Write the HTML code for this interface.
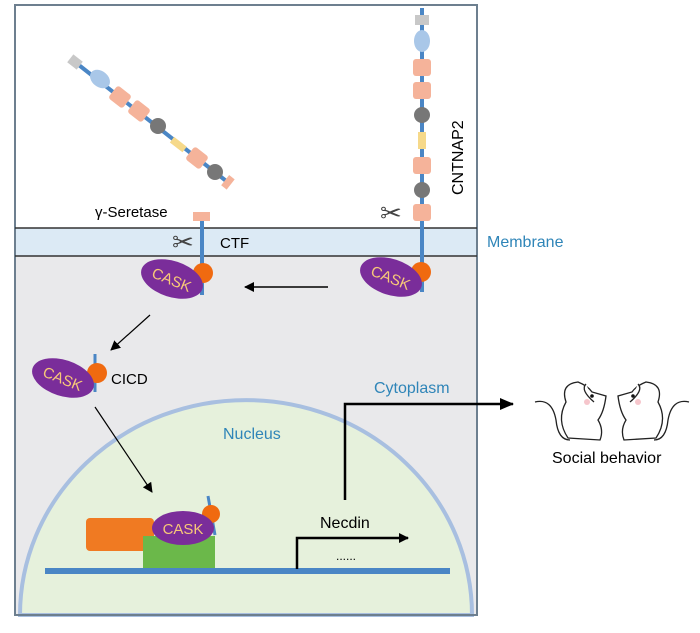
<!DOCTYPE html>
<html><head><meta charset="utf-8"><style>
body{margin:0;background:#fff;}
svg{display:block;font-family:"Liberation Sans",sans-serif;}
</style></head><body>
<svg width="700" height="633" viewBox="0 0 700 633">
<defs>
<marker id="ah" markerWidth="10" markerHeight="10" refX="9" refY="5" orient="auto" markerUnits="userSpaceOnUse"><path d="M0,0 L10,5 L0,10 z" fill="#000"/></marker>
<marker id="ah2" markerWidth="14" markerHeight="12" refX="13" refY="6" orient="auto" markerUnits="userSpaceOnUse"><path d="M0,0 L14,6 L0,12 z" fill="#000"/></marker>
</defs>
<rect x="15" y="5" width="462" height="223" fill="#fff"/>
<rect x="15" y="228" width="462" height="28" fill="#dceaf5"/>
<rect x="15" y="256" width="462" height="359" fill="#e9e9eb"/>
<path d="M20,615 A226,215 0 0 1 472,615 Z" fill="#e6f1dc" stroke="#a8bfe0" stroke-width="4"/>
<rect x="15" y="5" width="462" height="610" fill="none" stroke="#6d7f8f" stroke-width="2"/>
<line x1="15" y1="228" x2="477" y2="228" stroke="#333" stroke-width="1.5"/>
<line x1="15" y1="256" x2="477" y2="256" stroke="#333" stroke-width="1.5"/>

<line x1="75" y1="62" x2="230" y2="184" stroke="#4a86c5" stroke-width="4"/>
<rect x="69" y="57" width="12" height="10" fill="#c8c8c8" transform="rotate(38 75 62)"/>
<ellipse cx="100" cy="79" rx="11" ry="8" fill="#a9c7e8" transform="rotate(38 100 79)"/>
<rect x="111" y="89" width="18" height="16" rx="3" fill="#f5b39a" transform="rotate(38 120 97)"/>
<rect x="130" y="103" width="18" height="16" rx="3" fill="#f5b39a" transform="rotate(38 139 111)"/>
<circle cx="158" cy="126" r="8" fill="#777"/>
<rect x="170" y="141" width="16" height="7" fill="#f6d98a" transform="rotate(38 178 145)"/>
<rect x="188" y="150" width="18" height="16" rx="3" fill="#f5b39a" transform="rotate(38 197 158)"/>
<circle cx="215" cy="172" r="8" fill="#777"/>
<rect x="222" y="179" width="13" height="7" fill="#f5b39a" transform="rotate(-52 228 183)"/>

<line x1="422" y1="8" x2="422" y2="292" stroke="#4a86c5" stroke-width="4"/>
<rect x="415" y="15" width="14" height="10" fill="#c8c8c8"/>
<ellipse cx="422" cy="41" rx="8" ry="11" fill="#a9c7e8"/>
<rect x="413" y="59" width="18" height="17" rx="3" fill="#f5b39a"/>
<rect x="413" y="82" width="18" height="17" rx="3" fill="#f5b39a"/>
<circle cx="422" cy="115" r="8" fill="#777"/>
<rect x="418" y="132" width="8" height="17" fill="#f6d98a"/>
<rect x="413" y="157" width="18" height="17" rx="3" fill="#f5b39a"/>
<circle cx="422" cy="190" r="8" fill="#777"/>
<rect x="413" y="204" width="18" height="17" rx="3" fill="#f5b39a"/>
<text x="0" y="0" font-size="16" transform="translate(463,195) rotate(-90)">CNTNAP2</text>
<text x="380" y="222" font-size="26" fill="#444">✂</text>

<line x1="202" y1="216" x2="202" y2="295" stroke="#4a86c5" stroke-width="4"/>
<rect x="193" y="212" width="17" height="9" fill="#f5b39a"/>
<text x="95" y="217" font-size="15">γ-Seretase</text>
<text x="172" y="251" font-size="26" fill="#444">✂</text>
<text x="220" y="248" font-size="15">CTF</text>
<text x="487" y="247" font-size="16" fill="#2f85b8">Membrane</text>

<g>
<circle cx="203" cy="273" r="10" fill="#f06a10"/>
<ellipse cx="172" cy="279" rx="32" ry="18" fill="#7a2d9a" transform="rotate(18 172 279)"/>
<text x="172" y="285" font-size="15" fill="#f7c878" text-anchor="middle" transform="rotate(22 172 279)">CASK</text>
</g>
<g>
<circle cx="421" cy="272" r="10" fill="#f06a10"/>
<ellipse cx="391" cy="277" rx="32" ry="18" fill="#7a2d9a" transform="rotate(18 391 277)"/>
<text x="391" y="283" font-size="15" fill="#f7c878" text-anchor="middle" transform="rotate(22 391 277)">CASK</text>
</g>
<line x1="95" y1="354" x2="95" y2="392" stroke="#4a86c5" stroke-width="3"/>
<g>
<circle cx="97" cy="373" r="10" fill="#f06a10"/>
<ellipse cx="63" cy="378" rx="32" ry="18" fill="#7a2d9a" transform="rotate(18 63 378)"/>
<text x="63" y="384" font-size="15" fill="#f7c878" text-anchor="middle" transform="rotate(22 63 378)">CASK</text>
</g>
<text x="111" y="384" font-size="15">CICD</text>

<line x1="328" y1="287" x2="245" y2="287" stroke="#000" stroke-width="1.5" marker-end="url(#ah)"/>
<line x1="150" y1="315" x2="111" y2="350" stroke="#000" stroke-width="1.2" marker-end="url(#ah)"/>
<line x1="95" y1="407" x2="152" y2="492" stroke="#000" stroke-width="1.2" marker-end="url(#ah)"/>

<text x="374" y="393" font-size="16" fill="#2f85b8">Cytoplasm</text>
<text x="223" y="439" font-size="16" fill="#2f85b8">Nucleus</text>

<rect x="86" y="518" width="68" height="33" rx="4" fill="#f07a22"/>
<rect x="143" y="536" width="72" height="32" fill="#6bb84a"/>
<line x1="208" y1="496" x2="215" y2="535" stroke="#4a86c5" stroke-width="3"/>
<circle cx="211" cy="514" r="9" fill="#f06a10"/>
<ellipse cx="183" cy="528" rx="31" ry="17" fill="#7a2d9a"/>
<text x="183" y="534" font-size="15" fill="#f7c878" text-anchor="middle">CASK</text>

<line x1="45" y1="571" x2="450" y2="571" stroke="#4a86c5" stroke-width="6"/>
<polyline points="297,569 297,538 408,538" fill="none" stroke="#000" stroke-width="2.5" marker-end="url(#ah)"/>
<text x="320" y="528" font-size="16">Necdin</text>
<text x="336" y="560" font-size="12">......</text>
<polyline points="345,500 345,404 513,404" fill="none" stroke="#000" stroke-width="2.5" marker-end="url(#ah2)"/>

<g fill="#fff" stroke="#222" stroke-width="1.3">
<path d="M535,402 Q552,398 556,420 Q558,440 570,440"/>
<path d="M568,438 Q556,420 566,402 Q560,384 578,382 Q588,386 592,392 L606,396 Q604,412 598,420 Q604,430 600,440 Z"/>
<path d="M594,402 Q580,390 586,384"/>
<path d="M689,402 Q672,398 668,420 Q666,440 654,440"/>
<path d="M656,438 Q668,420 658,402 Q664,384 646,382 Q636,386 632,392 L618,396 Q620,412 626,420 Q620,430 624,440 Z"/>
<path d="M630,402 Q644,390 638,384"/>
</g>
<circle cx="592" cy="396" r="1.8" fill="#111"/>
<circle cx="633" cy="396" r="1.8" fill="#111"/>
<circle cx="587" cy="402" r="3" fill="#f6c6cc"/>
<circle cx="638" cy="402" r="3" fill="#f6c6cc"/>
<text x="552" y="463" font-size="16">Social behavior</text>
</svg>
</body></html>
